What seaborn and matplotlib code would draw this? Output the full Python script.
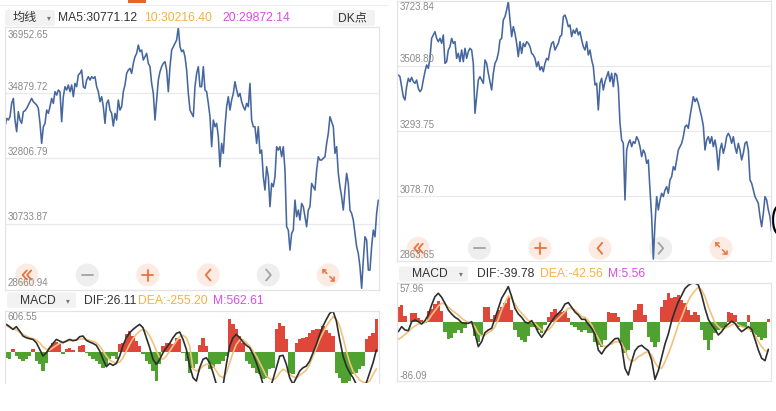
import numpy as np
import matplotlib
matplotlib.use("Agg")
import matplotlib.pyplot as plt
from matplotlib.patches import Circle, FancyBboxPatch, Rectangle
import seaborn as sns

# ---------------- data ----------------
left_price = [
    33807, 34071, 34018, 34123, 34545, 34703, 34018, 33649, 34281, 34018,
    33913, 34281, 34313, 34387, 34492, 34598, 34703, 34598, 34545, 34492,
    34387, 33913, 33280, 33807, 33913, 34334, 34229, 34440, 34703, 34545,
    34914, 34808, 34967, 34914, 33965, 34756, 35072, 34967, 35125, 34914,
    35125, 34756, 35177, 35072, 35441, 35494, 35599, 35072, 35019, 35283,
    35388, 35283, 35388, 35335, 35388, 35072, 34914, 34598, 34756, 34440,
    33913, 34545, 34650, 34334, 34229, 33828, 34229, 34018, 34650, 34334,
    34440, 34914, 35125, 35494, 35599, 35652, 35494, 35810, 36021, 36126,
    36389, 36179, 36231, 35915, 36021, 36126, 35810, 35704, 35177, 34861,
    34018, 34650, 35283, 35546, 35704, 35810, 35862, 35599, 34914, 35704,
    36231, 36337, 36442, 36548, 36950, 36337, 36179, 36231, 36021, 35599,
    34861,
    34334, 34229, 34123, 35072, 35494, 35704, 35072, 35072, 35704, 34967,
    34914, 34545, 34123, 33175, 34018, 33807, 33913, 33491, 32542, 33280,
    32964, 33807, 34440, 34756, 34334, 34650, 34861, 35230, 34967, 34756,
    34861, 34598, 34440, 34334, 34545, 34440, 35177, 34018, 33807, 33807,
    33280, 33807, 32964, 33069, 32226, 31805, 32542, 32226, 31278, 32015,
    31910, 32226, 33175, 33069, 33175, 32859, 33175, 32437, 30645, 30540,
    29907, 30434, 30540, 31488, 30961, 31172, 30856, 31383, 31278, 30961,
    30645, 31172, 31278, 32015, 31910, 31805, 32437, 32859, 32753, 32753,
    32806, 32859, 33280, 33596, 34123, 33965, 33807, 32964, 33175, 32332,
    31910, 31594, 31172, 31805, 32332, 32015, 31172, 31067, 30856, 30434,
    30013, 29802, 29380, 28700, 29591, 30329, 30224, 29275, 29275, 30013,
    30540, 30329, 31067, 31488,
]

right_price = [
    3479.0, 3473.5, 3440.4, 3407.4, 3396.3, 3440.4, 3468.0, 3457.0, 3471.3, 3457.0,
    3451.5, 3462.5, 3434.9, 3423.9, 3431.6, 3462.5, 3490.1, 3512.1, 3501.1, 3534.2,
    3600.3, 3611.4, 3622.4, 3600.3, 3589.3, 3600.3, 3583.8, 3611.4, 3517.6, 3523.1,
    3561.7, 3572.8, 3600.3, 3583.8, 3589.3, 3534.2, 3550.7, 3523.1, 3561.7, 3523.1,
    3567.3, 3534.2, 3556.2, 3567.3, 3561.7, 3517.6, 3352.2, 3407.4, 3462.5, 3473.5,
    3462.5, 3451.5, 3528.7, 3517.6, 3484.6, 3457.0, 3429.4, 3484.6, 3517.6, 3528.7,
    3550.7, 3594.8, 3600.3, 3661.0, 3672.0, 3694.1, 3722.0, 3661.0, 3605.9, 3638.9,
    3616.9, 3583.8, 3539.7, 3589.3, 3550.7, 3583.8, 3572.8, 3589.3, 3583.8, 3572.8,
    3550.7, 3545.2, 3534.2, 3506.6, 3523.1, 3495.6, 3506.6, 3490.1, 3517.6, 3534.2,
    3528.7, 3561.7, 3583.8, 3589.3, 3561.7, 3572.8, 3583.8, 3605.9, 3611.4, 3672.0,
    3677.5, 3661.0, 3638.9, 3644.4, 3605.9, 3627.9, 3616.9, 3633.4, 3611.4, 3622.4,
    3594.8, 3572.8, 3561.7, 3589.3, 3545.2, 3561.7, 3528.7, 3506.6, 3446.0, 3451.5,
    3363.3, 3451.5, 3468.0, 3429.4, 3457.0, 3473.5, 3490.1, 3457.0, 3484.6, 3440.4,
    3484.6, 3479.0, 3440.4, 3319.1,
    3264.0, 3253.0, 3065.5, 3230.9, 3253.0, 3264.0, 3242.0, 3258.5, 3253.0, 3275.0,
    3264.0, 3242.0, 3208.9, 3230.9, 3219.9, 3186.8, 3197.9, 3098.6, 3010.4, 2870.0,
    2988.3, 3076.6, 3032.5, 3065.5, 3087.6, 3076.6, 3098.6, 3109.6, 3087.6, 3131.7,
    3142.7, 3175.8, 3164.8, 3197.9, 3230.9, 3242.0, 3253.0, 3275.0,
    3308.1, 3313.6, 3302.6, 3341.2, 3374.3, 3407.4, 3390.8, 3401.8, 3385.3, 3363.3,
    3340.0, 3310.0, 3230.9, 3264.0, 3275.0, 3253.0, 3275.0, 3242.0, 3264.0, 3230.9,
    3164.8, 3230.9, 3253.0, 3219.9, 3242.0, 3275.0, 3286.1, 3275.0, 3253.0, 3275.0,
    3242.0, 3219.9, 3253.0, 3230.9, 3197.9, 3219.9, 3253.0, 3258.5, 3230.9, 3131.7,
    3120.7, 3098.6, 3076.6, 3065.5, 3054.5, 3010.4, 2977.3, 3021.4, 3076.6, 3065.5,
    3032.5, 3010.4, 2960.8,
]

left_hist = [
    -89, -104, 44, -64, -113, -138, -113, -64, 35, -138,
    -187, -286, -163, 59, 123, 143, 109, -39, 44, 59,
    25, -5, 84, 94, -15, -64, -113, -138, -187, -237,
    -212, -113, -64, -113, 109, 123, 256, 306, 232, 158,
    84, -39, -138, -187, -286, -434, -187, 84, 133, 123,
    109, 207, 182, -15, -138, -311,
    -237, -187, 94, 207, 84, -261, -237, -187, -187, -138,
    -64, 478, 404, 330, 232, 133, -138, -187, -237, -311,
    -335, -409, -385, -261, -237, 330, 429, 380, 182, -311,
    -335, 133, 182, 207, 222, 281, 320, 330, 340, 380,
    320, 281, 232, -311, -385, -458, -458, -434, -335, -311,
    -261, -212, 182, 232, 281, 478,
]
left_dif = [
    404, 370, 330, 370, 306, 232, 207, 192, 182, 133,
    35, -64, -15, 59, 123, 182, 158, 133, 158, 182,
    163, 173, 222, 232, 168, 143, 123, 94, 10, -113,
    -222, -173, -202, -173, -64, 94, 207, 281, 330, 370,
    404, 355, 207, 59, -113, -187, -113, -15, 59, 123,
    207, 271, 291, 182, 35, -212,
    -385, -434, -237, -113, -89, -163, -311, -483, -557, -508,
    -187, 84, 207, 256, 207, 143, 94, 59, -39, -163,
    -311, -483, -582, -557, -409, -237, -64, -54, -187, -385,
    -483, -385, -286, -237, -212, -138, -15, 108, 256, 380,
    478, 567, 601, 454, 182, -64, -212, -311, -385, -483,
    -557, -582, -458, -311, -163, 26,
]
left_dea = [
    389, 355, 340, 320, 291, 256, 232, 207, 192, 173,
    133, 74, 35, 25, 59, 94, 123, 143, 153, 163,
    168, 173, 182, 192, 182, 168, 153, 133, 84, 10,
    -64, -123, -153, -163, -153, -89, 10, 108, 192, 256,
    306, 330, 306, 232, 133, 10, -89, -113, -64, 10,
    84, 158, 222, 242, 207, 84,
    -251, -286, -261, -212, -187, -187, -212, -286, -360, -385,
    -311, -163, -15, 108, 173, 182, 133, 84, 10, -64,
    -163, -261, -360, -399, -419, -385, -311, -261, -286, -335,
    -370, -385, -350, -311, -271, -187, -64, 59, 182, 281,
    380, 454, 518, 478, 380, 207, 10, -163, -286, -360,
    -419, -449, -458, -434, -335, -255,
]

right_hist = [
    23.1, 25.1, 9.3, 1.0, 14.3, 13.3, 5.9, 3.4, -1.5, 17.2,
    19.2, 27.0, 32.0, 17.2, -13.8, -25.1, -23.6, -16.2, -11.3, -16.2,
    -8.8, -0.5, -2.5, -20.2, -28.5, -18.7, 23.1, 22.1, 4.4, 10.8,
    18.2, 23.1, 29.0, 37.9, 18.2, -11.3, -21.1, -26.1, -28.5, -20.2,
    -6.4, -6.4, -11.3, -16.2, -3.9, 8.4, 15.7, 19.2, 13.3, 15.7,
    17.2, 5.9, -3.9, -7.4, -11.3, -13.8,
    -11.3, -15.2, -16.2, -28.5, -33.4, -35.9, -26.1, 15.7, 13.3, 13.3,
    8.4, -33.4, -45.7, -40.8, -11.3, 18.2, 27.0, 27.0, 10.8, -21.1,
    -28.5, -35.9, -28.5, 23.1, 32.9, 42.8, 35.4, 37.9, 40.3, 32.9,
    28.0, 18.2, 10.8, 15.7, 10.8, -11.3, -26.1, -40.8, -26.1, -16.2,
    -11.3, -8.8, -6.4, 15.7, 13.3, 10.8, -6.4, -6.4, -6.4, 10.8,
    -13.8, -18.7, -21.1, -26.1, -23.6, 5.6,
]
right_dif = [
    -13.8, -6.4, -11.3, -12.3, 1.0, 3.4, 1.0, -2.5, 2.5, 10.8,
    25.6, 37.9, 42.8, 36.9, 28.0, 18.2, 12.3, 7.4, 4.4, -0.5,
    -1.5, -1.5, 1.0, -16.2, -35.9, -28.5, -15.2, -11.3, -8.8, 5.9,
    20.6, 35.4, 43.8, 52.6, 37.9, 20.6, 12.3, 7.4, 0.5, -1.5,
    2.5, -4.9, -15.2, -22.1, -15.2, -6.4, 1.5, 8.4, 13.3, 18.2,
    27.0, 29.0, 22.1, 15.2, 10.8, 4.4,
    4.4, -2.9, -8.8, -17.7, -40.8, -46.7, -38.8, -33.9, -29.0, -24.1,
    -23.6, -34.9, -67.8, -77.7, -58.0, -41.8, -35.9, -33.9, -38.3, -41.8,
    -55.6, -84.1, -71.3, -51.6, -32.0, -17.2, 2.5, 17.2, 30.0, 39.8,
    49.7, 54.6, 57.5, 57.9, 55.1, 40.3, 20.6, 4.4, -3.9, -10.3,
    -18.7, -13.8, -6.4, -2.5, 1.5, -1.5, -8.8, -13.8, -10.3, -6.4,
    -10.3, -25.1, -40.8, -53.1, -56.5, -39.8,
]
right_dea = [
    -25.1, -22.1, -17.7, -13.8, -8.8, -5.4, -2.5, -1.5, -0.5, 3.4,
    10.8, 17.2, 24.1, 28.0, 27.0, 22.1, 18.2, 14.3, 10.8, 5.9,
    2.5, 0.0, -1.5, -6.4, -16.2, -20.2, -18.7, -15.2, -12.3, -6.4,
    4.4, 18.2, 29.0, 38.8, 35.4, 27.0, 19.2, 13.3, 8.4, 2.5,
    0.0, -1.5, -6.4, -11.3, -12.8, -11.3, -6.4, 1.0, 5.9, 10.8,
    15.7, 20.6, 20.6, 18.2, 13.3, 8.4,
    7.4, 2.5, -3.9, -15.2, -23.6, -33.4, -35.9, -33.9, -32.0, -29.0,
    -28.5, -31.0, -40.8, -53.1, -58.0, -55.6, -50.6, -48.2, -44.7, -43.3,
    -48.2, -59.5, -66.4, -67.8, -58.0, -46.7, -33.4, -18.7, -3.9, 7.4,
    20.6, 32.0, 40.3, 46.7, 51.6, 47.7, 37.9, 23.1, 10.8, -0.5,
    -6.4, -10.3, -8.8, -6.4, -3.9, -1.5, -3.9, -6.4, -7.9, -9.8,
    -12.3, -18.7, -28.5, -35.9, -41.8, -42.6,
]

left_ticks = [36952.65, 34879.72, 32806.79, 30733.87, 28660.94]
left_tick_labels = ["36952.65", "34879.72", "32806.79", "30733.87", "28660.94"]
right_ticks = [3723.84, 3508.80, 3293.75, 3078.70, 2863.65]
right_tick_labels = ["3723.84", "3508.80", "3293.75", "3078.70", "2863.65"]
left_macd_top = 606.55
left_macd_label = "606.55"
right_macd_range = [-86.09, 57.96]
right_macd_labels = ["57.96", "-86.09"]

ma_labels = ["MA5:30771.12", "10:30216.40", "20:29872.14"]
left_macd_texts = ["DIF:26.11", "DEA:-255.20", "M:562.61"]
right_macd_texts = ["DIF:-39.78", "DEA:-42.56", "M:5.56"]

# ---------------- style ----------------
W, H = 776, 411
sns.set_theme(style="white")
plt.rcParams["font.family"] = ["Liberation Sans", "Noto Sans CJK SC", "DejaVu Sans"]

PRICE = "#46679e"
DIF_C = "#2e2e2e"
DEA_C = "#f2c27c"
RED = "#e0473b"
GREEN = "#4fa130"
GRID = "#e8e8ee"
BORDER = "#e4e4e8"
LABEL = "#8a8a8a"
ORANGE_T = "#f2b340"
MAGENTA = "#d54fe0"

fig = plt.figure(figsize=(W / 100, H / 100), dpi=100)
fig.patch.set_facecolor("white")

ov = fig.add_axes([0, 0, 1, 1], zorder=-1)
ov.set_xlim(0, W)
ov.set_ylim(H, 0)
ov.axis("off")
ov.set_facecolor("none")


def px_axes(x0, y0, x1, y1):
    return fig.add_axes([x0 / W, 1 - y1 / H, (x1 - x0) / W, (y1 - y0) / H], zorder=1)


def style(ax, grid_vals=(), bottom=True):
    ax.set_facecolor("none")
    ax.set_xticks([])
    ax.set_yticks(list(grid_vals))
    ax.tick_params(length=0, labelleft=False, labelbottom=False)
    ax.grid(False)
    if len(grid_vals):
        ax.yaxis.grid(True, color=GRID, lw=0.9)
    for s in ax.spines.values():
        s.set_color(BORDER)
        s.set_linewidth(0.9)
    ax.spines["bottom"].set_visible(bottom)
    ax.set_xlabel("")
    ax.set_ylabel("")


def txt(x, y, s, **kw):
    kw.setdefault("va", "center")
    kw.setdefault("ha", "left")
    fig.text(x / W, 1 - y / H, s, **kw)


def rbox(x0, y0, x1, y1):
    ov.add_patch(FancyBboxPatch((x0, y0), x1 - x0, y1 - y0,
                                boxstyle="round,pad=0,rounding_size=2",
                                facecolor="#f2f2f2", edgecolor="none"))


def button(cx, cy, kind, orange):
    bg = "#fcebe2" if orange else "#eeeeee"
    fg = "#e8733c" if orange else "#a3a3a3"
    ov.add_patch(Circle((cx, cy), 11.5, facecolor=bg, edgecolor="none"))
    kw = dict(color=fg, lw=1.3, solid_capstyle="round", solid_joinstyle="round")
    if kind == "dbl":
        for dx in (-2.2, 2.2):
            ov.plot([cx + dx + 2.2, cx + dx - 1.8, cx + dx + 2.2], [cy - 4.5, cy, cy + 4.5], **kw)
    elif kind == "minus":
        ov.plot([cx - 5.5, cx + 5.5], [cy, cy], **kw)
    elif kind == "plus":
        ov.plot([cx - 5.5, cx + 5.5], [cy, cy], **kw)
        ov.plot([cx, cx], [cy - 5.5, cy + 5.5], **kw)
    elif kind == "left":
        ov.plot([cx + 2.2, cx - 2.5, cx + 2.2], [cy - 5.5, cy, cy + 5.5], **kw)
    elif kind == "right":
        ov.plot([cx - 2.2, cx + 2.5, cx - 2.2], [cy - 5.5, cy, cy + 5.5], **kw)
    elif kind == "expand":
        k2 = dict(color=fg, lw=1.1, solid_capstyle="round", solid_joinstyle="round")
        for sgn in (-1, 1):
            tip = (cx + sgn * 5.5, cy + sgn * 5.5)
            ov.plot([cx + sgn * 1.5, tip[0]], [cy + sgn * 1.5, tip[1]], **k2)
            ov.plot([tip[0] - sgn * 3.2, tip[0], tip[0]],
                    [tip[1], tip[1], tip[1] - sgn * 3.2], **k2)


# ---------------- decorations (top bar) ----------------
ov.add_patch(Rectangle((128, 0), 18, 3, facecolor="#e8622c", edgecolor="none"))
ov.plot([0, 388], [5.5, 5.5], color="#eeeeee", lw=0.8)
rbox(5, 10, 55, 26)
rbox(333, 10, 375, 26)
rbox(7, 292.5, 76, 308)
rbox(399, 266.5, 468, 281.5)

FS = 8.7
txt(13, 18, "均线", fontsize=FS, color="#333333")
txt(47, 18, "▾", fontsize=5.5, color="#777777", family=["DejaVu Sans"])
txt(58, 18, ma_labels[0], fontsize=FS, color="#333333")
txt(144, 18, ma_labels[1], fontsize=FS, color=ORANGE_T)
txt(222, 18, ma_labels[2], fontsize=FS, color=MAGENTA)
txt(338, 18, "DK点", fontsize=FS, color="#333333")

# ---------------- left price ----------------
axL = px_axes(5, 27.2, 378.7, 289.5)
sns.lineplot(x=np.arange(len(left_price)), y=left_price, ax=axL, color=PRICE, lw=1.15)
axL.set_xlim(0, 224.24)
axL.set_ylim(left_ticks[-1], left_ticks[0])
style(axL, left_ticks[1:-1])

for lbl, yp in zip(left_tick_labels, [35, 86.7, 152.3, 217.3, 283.3]):
    txt(7.5, yp, lbl, fontsize=7, color=LABEL)

for cx, kind, orng in zip([26.7, 87.3, 147.7, 208.3, 268.3, 328.3],
                          ["dbl", "minus", "plus", "left", "right", "expand"],
                          [True, False, True, True, False, True]):
    button(cx, 275, kind, orng)

# ---------------- right price ----------------
axR = px_axes(397.3, 1, 771, 261)
sns.lineplot(x=np.arange(len(right_price)), y=right_price, ax=axR, color=PRICE, lw=1.15)
axR.set_xlim(-0.6, 223.6)
axR.set_ylim(right_ticks[-1], right_ticks[0])
style(axR, right_ticks[1:-1])

for lbl, yp in zip(right_tick_labels, [7, 59.5, 125, 190, 255.5]):
    txt(399.5, yp, lbl, fontsize=7, color=LABEL)

for cx, kind, orng in zip([418.3, 479.3, 540, 600, 660.7, 721],
                          ["dbl", "minus", "plus", "left", "right", "expand"],
                          [True, False, True, True, False, True]):
    button(cx, 248.3, kind, orng)

# stray cursor mark at the right edge of the screenshot
th = np.linspace(np.pi * 0.55, np.pi * 1.45, 30)
ov.plot(779 + 6 * np.cos(th), 220 + 14 * np.sin(th), color="black", lw=1.6)

# ---------------- MACD headers ----------------
txt(20, 300.5, "MACD", fontsize=FS, color="#333333")
txt(66, 300.5, "▾", fontsize=5.5, color="#777777", family=["DejaVu Sans"])
txt(84, 300.5, left_macd_texts[0], fontsize=FS, color="#333333")
txt(138, 300.5, left_macd_texts[1], fontsize=FS, color=ORANGE_T)
txt(213, 300.5, left_macd_texts[2], fontsize=FS, color=MAGENTA)

txt(412, 274, "MACD", fontsize=FS, color="#333333")
txt(459, 274, "▾", fontsize=5.5, color="#777777", family=["DejaVu Sans"])
txt(477, 274, right_macd_texts[0], fontsize=FS, color="#333333")
txt(540, 274, right_macd_texts[1], fontsize=FS, color=ORANGE_T)
txt(608, 274, right_macd_texts[2], fontsize=FS, color=MAGENTA)


def macd(ax, hist, dif, dea):
    idx = np.arange(len(hist))
    cols = [RED if v >= 0 else GREEN for v in hist]
    ax.bar(idx, hist, width=1.02, color=cols, linewidth=0)
    sns.lineplot(x=idx, y=dea, ax=ax, color=DEA_C, lw=1.2)
    sns.lineplot(x=idx, y=dif, ax=ax, color=DIF_C, lw=1.2)


# ---------------- left MACD ----------------
axLM = px_axes(5, 310.7, 378.7, 383)
macd(axLM, left_hist, left_dif, left_dea)
axLM.set_xlim(-0.4, 111.7)
axLM.set_ylim(-463, left_macd_top)
style(axLM, (), bottom=False)
txt(8, 316.5, left_macd_label, fontsize=7, color=LABEL)

# ---------------- right MACD ----------------
axRM = px_axes(397.3, 283, 771, 380.7)
macd(axRM, right_hist, right_dif, right_dea)
axRM.set_xlim(-0.3, 111.8)
axRM.set_ylim(right_macd_range[0], right_macd_range[1])
style(axRM, ())
txt(400, 289.5, right_macd_labels[0], fontsize=7, color=LABEL)
txt(400, 375.5, right_macd_labels[1], fontsize=7, color=LABEL)

fig.savefig("out.png", dpi=100, facecolor="white")
